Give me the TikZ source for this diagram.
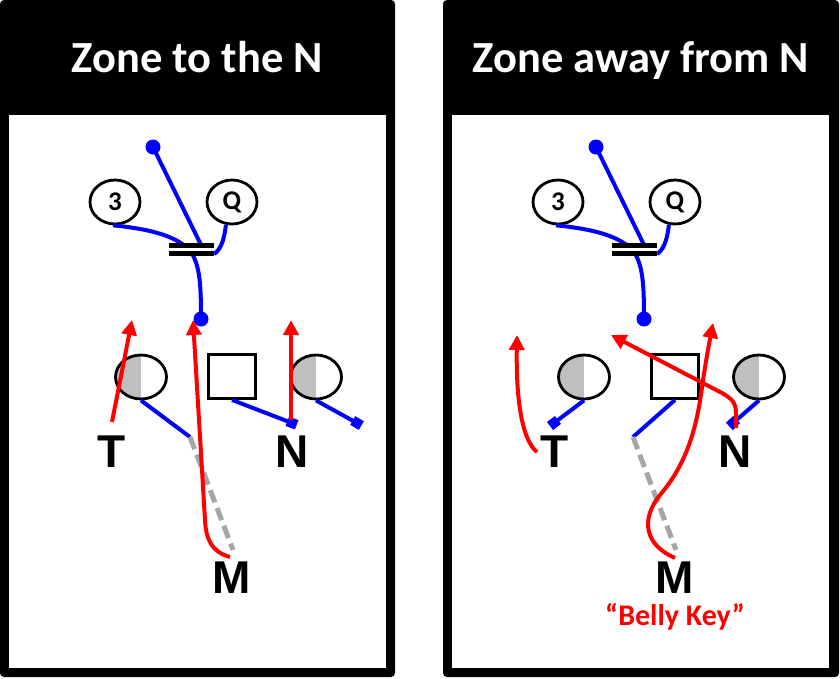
\documentclass[tikz,border=0pt]{standalone}
\usepackage{fontspec}
\setmainfont{Carlito}
\newfontfamily\lbfont{Liberation Sans}
\usetikzlibrary{shapes.geometric,arrows.meta}
\definecolor{pblue}{RGB}{0,0,255}
\definecolor{pred}{RGB}{255,0,0}
\definecolor{dgray}{RGB}{166,166,166}
\definecolor{fgray}{RGB}{191,191,191}
\begin{document}
\begin{tikzpicture}[x=1pt,y=-1pt,
 panel/.style={fill=black,rounded corners=4pt},
 title/.style={text=white,font=\bfseries\fontsize{44.5}{44.5}\selectfont,inner sep=0pt},
 back/.style={ellipse,draw,line width=2.8pt,minimum width=50pt,minimum height=44pt,inner sep=0pt,font=\bfseries\fontsize{27}{27}\selectfont},
 dl/.style={ellipse,draw,line width=2.8pt,minimum width=51pt,minimum height=44pt,inner sep=0pt,
   path picture={\fill[fgray] (path picture bounding box.south west) rectangle (path picture bounding box.north);}},
 oline/.style={rectangle,draw,line width=2.8pt,minimum width=47pt,minimum height=44pt,inner sep=0pt},
 dot/.style={circle,fill=pblue,minimum size=15pt,inner sep=0pt},
 endsq/.style={rectangle,fill=pblue,minimum size=10pt,inner sep=0pt},
 bars/.style={rectangle,minimum width=45pt,minimum height=12.5pt,inner sep=0pt,fill=white,
   path picture={\fill[black] (path picture bounding box.north west) rectangle ([yshift=-5pt]path picture bounding box.north east);
                 \fill[black] (path picture bounding box.south west) rectangle ([yshift=5pt]path picture bounding box.south east);}},
 blk/.style={pblue,line width=4pt},
 runr/.style={pred,line width=4pt,-{Triangle[length=15pt,width=15pt]}},
 readl/.style={dgray,line width=5pt,dash pattern=on 13pt off 6pt},
 lbl/.style={font=\lbfont\bfseries\fontsize{46}{46}\selectfont,inner sep=0pt,anchor=base},
 keyl/.style={text=pred,font=\bfseries\fontsize{30}{30}\selectfont,inner sep=0pt,anchor=base}
]
\useasboundingbox (0,0) rectangle (840,678);
% panels
\fill[panel] (0,0) rectangle (395,677);
\fill[white] (9,115) rectangle (386,668);
\fill[panel] (443,0) rectangle (839,677);
\fill[white] (452,115) rectangle (829,668);
\node[title] (t1) at (197.5,72) [anchor=base] {Zone to the N};
\node[title] (t2) at (641,72) [anchor=base] {Zone away from N};

\foreach \pn/\dx in {L/0,R/443}{
\begin{scope}[xshift=\dx pt]
 \node[back] (\pn-3) at (115,202) {3};
 \node[back] (\pn-Q) at (232,202) {Q};
 \node[dot] (\pn-dt) at (153,147) {};
 \node[dot] (\pn-db) at (201,319) {};
 \coordinate (\pn-mesh) at (203,249);
 \coordinate (\pn-qe) at (214,254);
 \draw[blk] (\pn-3.-95) .. controls (150,229) and (178,236) .. (191,252)
            .. controls (200,266) and (201,285) .. (\pn-db.center);
 \draw[blk] (\pn-dt.center) -- (\pn-mesh);
 \draw[blk] (\pn-Q.-105) .. controls (224,242) and (220,250) .. (\pn-qe);
 \node[bars] (\pn-bar) at (191.5,249.5) {};
 \node[dl] (\pn-te) at (141,377) {};
 \node[oline] (\pn-c) at (232,376.5) {};
 \node[dl] (\pn-ne) at (316,377) {};
 \coordinate (\pn-mk) at (190,437);
 \coordinate (\pn-ms) at (233,550);
 \node[lbl] (\pn-T) at (112,467) {T};
 \node[lbl] (\pn-N) at (292,467) {N};
 \node[lbl] (\pn-M) at (232,593) {M};
\end{scope}
}

% left panel assignments
\node[endsq,rotate=-21] (L-cb) at (292,423) {};
\node[endsq,rotate=-30] (L-nb) at (357,423) {};
\draw[blk] (L-te.south) -- (L-mk);
\draw[blk] (L-c.south) -- (L-cb.center);
\draw[blk] (L-ne.south) -- (L-nb.center);
\draw[readl] (L-mk) -- (L-ms);
\coordinate (L-ts) at (112,422);
\coordinate (L-tt) at (132,320);
\coordinate (L-ns) at (291,420);
\coordinate (L-nt) at (291,320);
\coordinate (L-mst) at (230,557);
\coordinate (L-mt) at (193,320);
\draw[runr] (L-ts) -- (L-tt);
\draw[runr] (L-ns) -- (L-nt);
\draw[runr] (L-mst) .. controls (212,552) and (206,540) .. (205,520) -- (L-mt);

% right panel assignments
\node[endsq,rotate=38] (R-tb) at (554,423) {};
\node[endsq,rotate=43] (R-nb) at (733,423) {};
\draw[blk] (R-te.south) -- (R-tb.center);
\draw[blk] (R-c.south) -- (R-mk);
\draw[blk] (R-ne.south) -- (R-nb.center);
\draw[readl] (R-mk) -- (R-ms);
\coordinate (R-ts) at (537,452);
\coordinate (R-tt) at (517,335);
\coordinate (R-ns) at (736,428);
\coordinate (R-nt) at (611,335);
\coordinate (R-mst) at (675,558);
\coordinate (R-mt) at (713,323);
\draw[runr] (R-ts) .. controls (522,440) and (516,400) .. (R-tt);
\draw[runr] (R-ns) -- (736,414) .. controls (736,402) and (732,399) .. (722,393) -- (R-nt);
\draw[runr] (R-mst) .. controls (645,545) and (640,520) .. (660,495)
   .. controls (690,460) and (698,420) .. (703,380) .. controls (707,355) .. (R-mt);
\node[keyl] (bk) at (675,625) {“Belly Key”};
\end{tikzpicture}
\end{document}
